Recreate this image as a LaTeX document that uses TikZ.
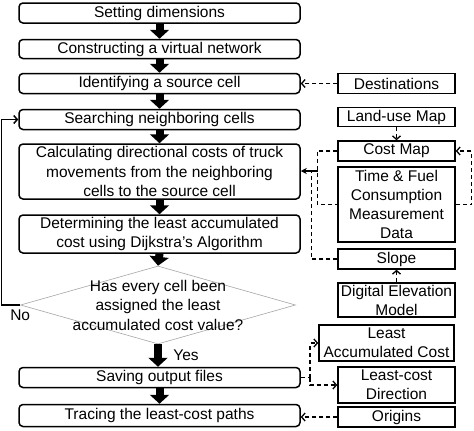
\documentclass[tikz,border=0pt]{standalone}
\usepackage{fontspec}
\setmainfont{Liberation Sans}
\usetikzlibrary{shapes.geometric,arrows.meta,positioning}

\begin{document}
\begin{tikzpicture}[x=1pt, y=-1pt,
  step box/.style = {draw, line width=1.5pt, rounded corners=4pt, minimum width=281pt, inner sep=0pt, align=center, font=\fontsize{15.5}{19.5}\selectfont},
  data box/.style = {draw, line width=1.5pt, minimum width=117pt, inner sep=0pt, align=center, font=\fontsize{15.5}{19}\selectfont},
  decision/.style = {draw=gray!70, line width=0.6pt, shape=diamond, minimum width=275pt, minimum height=78pt, inner sep=0pt},
  flow/.style = {line width=8pt, -{Triangle[length=9pt, width=19pt]}},
  link/.style = {line width=1.3pt, dash pattern=on 4pt off 3pt, -{Straight Barb[length=3.5pt, width=8pt]}},
  back/.style = {line width=1.5pt, -{Straight Barb[length=3.5pt, width=8pt]}}]
\useasboundingbox (0,0) rectangle (474,431);
\node[step box, minimum height=20pt] (dims) at (159.5,13) {Setting dimensions};
\node[step box, minimum height=19pt] (network) at (159.5,49) {Constructing a virtual network};
\node[step box, minimum height=20pt] (source) at (159.5,83.5) {Identifying a source cell};
\node[step box, minimum height=20pt] (search) at (159.5,119.5) {Searching neighboring cells};
\node[step box, minimum height=55pt] (costs) at (159.5,171.5) {Calculating directional costs of truck\\movements from the neighboring\\cells to the source cell};
\node[step box, minimum height=38pt] (dijkstra) at (159.5,234) {Determining the least accumulated\\cost using Dijkstra's Algorithm};
\node[decision, label={[align=center, font=\fontsize{15.5}{19.5}\selectfont]center:Has every cell been\\assigned the least\\accumulated cost value?}] (check) at (158,305) {};
\node[step box, minimum height=20pt] (save) at (159.5,377.5) {Saving output files};
\node[step box, minimum height=22pt] (trace) at (159.5,415.5) {Tracing the least-cost paths};

\node[data box, minimum height=20pt] (dest) at (396.5,83.5) {Destinations};
\node[data box, minimum height=19pt] (landuse) at (396.5,117) {Land-use Map};
\node[data box, minimum height=20pt] (costmap) at (396.5,151) {Cost Map};
\node[data box, minimum height=75pt] (fuel) at (396.5,204.5) {Time \& Fuel\\Consumption\\Measurement\\Data};
\node[data box, minimum height=20pt] (slope) at (396.5,259) {Slope};
\node[data box, minimum height=34pt] (dem) at (396.5,300) {Digital Elevation\\Model};
\node[data box, minimum width=135pt, minimum height=36pt] (lac) at (386.5,343) {Least\\Accumulated Cost};
\node[data box, minimum height=36pt] (lcd) at (396.5,385) {Least-cost\\Direction};
\node[data box, minimum height=20pt] (origins) at (396.5,417) {Origins};

\draw[flow] (dims) -- (network);
\draw[flow] (network) -- (source);
\draw[flow] (source) -- (search);
\draw[flow] (search) -- (costs);
\draw[flow] (costs) -- (dijkstra);
\draw[flow] (dijkstra.south) -- (check.north);
\draw[flow] (check.south) -- (save.north -| check.south) node[midway, right=8pt, font=\fontsize{15.5}{19}\selectfont] (yes) {Yes};
\draw[flow] (save) -- (trace);
\draw[back] (check.west) node[below=1pt, font=\fontsize{15.5}{19}\selectfont] (no) {No} -- ++(-18.5,0) |- (search.west);

\coordinate (merge) at (318,171);
\coordinate (split) at (310,377.5);
\draw[link] (dest) -- (source);
\draw[link] (landuse) -- (costmap);
\draw[link] (fuel.east) -- ++(16,0) |- (costmap.east);
\draw[line width=1.3pt, dash pattern=on 4pt off 3pt] (costmap.west) -- ++(-20,0) |- (fuel.west);
\draw[line width=1.3pt, dash pattern=on 4pt off 3pt] (slope.west) -- ++(-26,0) |- (merge);
\draw[line width=1.3pt, -{Stealth[length=6pt, width=6pt]}] (merge) -- (merge -| costs.east);
\draw[link] (dem) -- (slope);
\draw[line width=1.3pt, dash pattern=on 4pt off 3pt] (save.east) -- (split);
\draw[link] (split) |- (lac.west);
\draw[link] (split) |- (lcd.west);
\draw[link] (origins.west) -- (origins.west -| trace.east);
\end{tikzpicture}
\end{document}
